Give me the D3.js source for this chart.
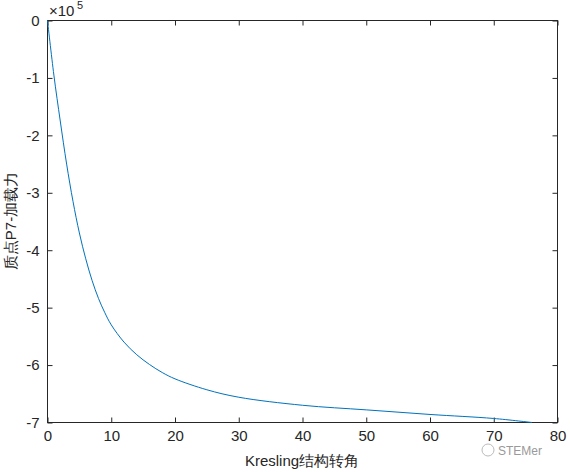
<!DOCTYPE html><html><head><meta charset="utf-8"><script src="https://cdn.jsdelivr.net/npm/d3@7"></script>
<style>body{margin:0;background:#fff}text{font-family:Arial,"Liberation Sans",sans-serif}</style></head><body><svg id="c" width="570" height="472"></svg><script>
const xVals=[0,1,2,3,4,5,6,7,8,9,10,12,14,16,18,20,25,30,40,50,60,70,76];
const yVals=[0,-0.95,-1.75,-2.5,-3.15,-3.7,-4.15,-4.53,-4.84,-5.09,-5.3,-5.6,-5.82,-5.99,-6.13,-6.24,-6.43,-6.56,-6.7,-6.78,-6.86,-6.93,-7];
const xTicks=[0,10,20,30,40,50,60,70,80];
const yTicks=[0,-1,-2,-3,-4,-5,-6,-7];
const svg=d3.select("#c");
const L=47.5,R=557.5,T=20.5,B=422.5;
const fmt=d=>String(d);
const x=d3.scaleLinear().domain([0,80]).range([L,R]);
const y=d3.scaleLinear().domain([-7,0]).range([B,T]);
svg.append("g").attr("transform",`translate(0,${B})`).call(d3.axisBottom(x).tickValues(xTicks).tickSize(-5).tickPadding(8).tickFormat(fmt)).call(g=>g.select(".domain").remove());
svg.append("g").attr("transform",`translate(0,${T})`).call(d3.axisTop(x).tickValues(xTicks).tickSize(-5).tickFormat("")).call(g=>g.select(".domain").remove());
svg.append("g").attr("transform",`translate(${L},0)`).call(d3.axisLeft(y).tickValues(yTicks).tickSize(-5).tickPadding(8).tickFormat(fmt)).call(g=>g.select(".domain").remove());
svg.append("g").attr("transform",`translate(${R},0)`).call(d3.axisRight(y).tickValues(yTicks).tickSize(-5).tickFormat("")).call(g=>g.select(".domain").remove());
svg.selectAll(".tick text").attr("font-size",15).attr("fill","#262626");
svg.selectAll(".tick line").attr("stroke","#262626");
svg.append("rect").attr("x",L).attr("y",T).attr("width",R-L).attr("height",B-T).attr("fill","none").attr("stroke","#262626");
svg.append("path").datum(xVals.map((v,i)=>[v,yVals[i]])).attr("fill","none").attr("stroke","#0072BD").attr("stroke-width",1)
 .attr("d",d3.line().x(d=>x(d[0])).y(d=>y(d[1])).curve(d3.curveCatmullRom));
svg.append("text").attr("x",49).attr("y",16).attr("font-size",15).attr("fill","#262626").text("×10");
svg.append("text").attr("x",77).attr("y",9).attr("font-size",11).attr("fill","#262626").text("5");
svg.append("text").attr("x",302).attr("y",466).attr("text-anchor","middle").attr("font-size",15).attr("fill","#262626").attr("font-family","'Noto Sans CJK SC',sans-serif").text("Kresling结构转角");
svg.append("text").attr("transform","translate(16,221) rotate(-90)").attr("text-anchor","middle").attr("font-size",15).attr("fill","#262626").attr("font-family","'Noto Sans CJK SC',sans-serif").text("质点P7-加载力");
svg.append("circle").attr("cx",488).attr("cy",450).attr("r",6).attr("fill","none").attr("stroke","#bbb");
svg.append("text").attr("x",498).attr("y",455).attr("font-size",12).attr("fill","#999").text("STEMer");
</script></body></html>
